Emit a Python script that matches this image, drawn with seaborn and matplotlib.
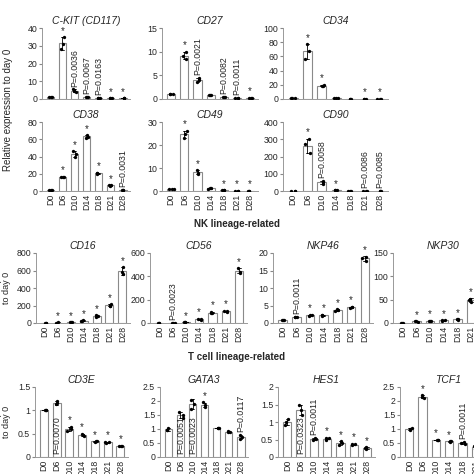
import numpy as np
import pandas as pd
import matplotlib
matplotlib.use('Agg')
import matplotlib.pyplot as plt
import seaborn as sns

sns.set_style('white')
plt.rcParams['font.family'] = ['Liberation Sans', 'DejaVu Sans']

DAYS = ['D0', 'D6', 'D10', 'D14', 'D18', 'D21', 'D28']

# --- replicate values per day (3 each) ---
CKIT = [[1, 1, 1], [28, 31, 35], [4, 4.5, 5.5], [1, 1, 1], [0.5, 0.6, 0.5], [0.3, 0.3, 0.3], [0.3, 0.3, 0.3]]
CD27 = [[1, 1, 1.1], [8.5, 9, 10], [3.5, 4, 4.5], [0.8, 0.9, 0.8], [0.5, 0.5, 0.5], [0.3, 0.3, 0.3], [0.3, 0.3, 0.3]]
CD34 = [[1, 1, 1], [57, 67, 77], [18, 19, 20], [1, 1, 1], [0.5, 0.5, 0.5], [0.3, 0.3, 0.3], [0.3, 0.3, 0.3]]
CD38 = [[1, 1, 1], [16, 16, 16.5], [40, 43, 46], [62, 63, 65], [20, 20.5, 21], [6, 6.5, 7], [1, 1, 1]]
CD49 = [[1, 1, 1], [23, 25, 26], [7.5, 8, 9], [1, 1.2, 1.3], [0.3, 0.3, 0.3], [0.2, 0.2, 0.2], [0.2, 0.2, 0.2]]
CD90 = [[1, 1, 1], [220, 270, 300], [40, 50, 60], [5, 6, 5], [1, 1, 1], [0.5, 0.5, 0.5], [0.5, 0.5, 0.5]]
CD16 = [[1, 1, 1], [5, 6, 5], [8, 7, 8], [25, 30, 28], [70, 80, 90], [190, 200, 215], [560, 580, 640]]
CD56 = [[1, 1, 1], [3, 3, 3], [5, 5, 6], [30, 35, 32], [85, 90, 95], [95, 100, 105], [430, 440, 470]]
NKP46 = [[1, 1, 1], [1.7, 1.8, 1.8], [2, 2.2, 2.3], [2.1, 2.3, 2.4], [3.5, 3.7, 3.9], [4.4, 4.5, 4.6], [17.8, 18.5, 19]]
NKP30 = [[1, 1, 1], [3, 4, 4], [4, 5, 5], [5, 6, 6], [7, 8, 8], [45, 50, 52], [60, 65, 70]]
CD3E = [[1, 1, 1], [1.13, 1.15, 1.2], [0.55, 0.6, 0.65], [0.45, 0.47, 0.5], [0.33, 0.34, 0.34], [0.3, 0.32, 0.33], [0.23, 0.24, 0.24]]
GATA3 = [[0.95, 0.98, 1.05], [1.4, 1.5, 1.6], [1.7, 1.9, 2.05], [1.8, 1.85, 1.95], [1.02, 1.03, 1.03], [0.88, 0.9, 0.93], [0.65, 0.7, 0.78]]
HES1 = [[0.92, 1, 1.1], [1.2, 1.35, 1.48], [0.48, 0.52, 0.55], [0.5, 0.53, 0.54], [0.35, 0.4, 0.45], [0.33, 0.36, 0.38], [0.22, 0.25, 0.28]]
TCF1 = [[0.95, 1, 1.02], [2.1, 2.15, 2.2], [0.62, 0.62, 0.62], [0.55, 0.56, 0.57], [0.45, 0.5, 0.55], [0.28, 0.35, 0.4], [0.3, 0.32, 0.35]]

# annotations per day ('' = none)
A_CKIT = ['', '*', 'P=0.0036', 'P=0.0067', 'P=0.0163', '*', '*']
A_CD27 = ['', '*', 'P=0.0021', '', 'P=0.0082', 'P=0.0011', '*']
A_CD34 = ['', '*', '*', '', '', '*', '*']
A_CD38 = ['', '*', '*', '*', '*', '*', 'P=0.0031']
A_CD49 = ['', '*', '*', '', '*', '*', '*']
A_CD90 = ['', '*', 'P=0.0058', '*', '', 'P=0.0086', 'P=0.0085']
A_CD16 = ['', '*', '*', '*', '*', '*', '*']
A_CD56 = ['', 'P=0.0023', '*', '*', '*', '*', '*']
A_NKP46 = ['', 'P=0.0011', '*', '*', '*', '*', '*']
A_NKP30 = ['', '*', '*', '*', '*', '*', '*']
A_CD3E = ['', 'P=0.0070', '*', '*', '*', '*', '*']
A_GATA3 = ['', 'P=0.0051', 'P=0.0023', '*', '', '', 'P=0.0117']
A_HES1 = ['', 'P=0.0323', 'P=0.0011', '*', '*', '*', '*']
A_TCF1 = ['', '*', '*', '*', 'P=0.0011', '*', '*']

W, H = 474, 474


def px(x0, y0, x1, y1):
    return [x0 / W, 1 - y1 / H, (x1 - x0) / W, (y1 - y0) / H]


def panel(fig, rect, name, vals, ann, ymax, step, xlabels=True):
    ax = fig.add_axes(rect)
    df = pd.DataFrame([(d, v) for d, vs in zip(DAYS, vals) for v in vs], columns=['day', 'val'])
    sns.barplot(data=df, x='day', y='val', order=DAYS, errorbar='sd', color='white',
                edgecolor='#8a8a8a', linewidth=0.8, width=0.62, capsize=0.25,
                err_kws={'color': 'black', 'linewidth': 0.6}, ax=ax)
    sns.stripplot(data=df, x='day', y='val', order=DAYS, color='black', size=2.4,
                  jitter=0.18, ax=ax)
    for i, (vs, a) in enumerate(zip(vals, ann)):
        top = np.mean(vs) + np.std(vs, ddof=1)
        if a == '*':
            ax.text(i, top + ymax * 0.02, '*', ha='center', va='bottom', fontsize=7)
        elif a:
            y = top + ymax * 0.04
            if y + ymax * 0.45 > ymax:
                y = ymax * 0.05
            ax.text(i, y, a, rotation=90, ha='center', va='bottom', fontsize=6.3, color='#222')
    ax.set_ylim(0, ymax)
    ticks = np.arange(0, ymax + step / 2, step)
    ax.set_yticks(ticks)
    ax.set_yticklabels([f'{t:g}' for t in ticks])
    ax.set_xlim(-0.7, 6.6)
    ax.set_xlabel('')
    ax.set_ylabel('')
    ax.set_title(name, fontsize=7.5, style='italic', pad=3)
    ax.tick_params(axis='x', labelsize=6.3, rotation=90, length=0, pad=2)
    if not xlabels:
        ax.set_xticklabels([])
    ax.tick_params(axis='y', labelsize=6.3, length=2, pad=1.5, left=True, color='#888')
    for s in ['top', 'right']:
        ax.spines[s].set_visible(False)
    for s in ['left', 'bottom']:
        ax.spines[s].set_color('#999')
        ax.spines[s].set_linewidth(0.7)
    return ax


fig = plt.figure(figsize=(W / 100, H / 100), dpi=100)

panel(fig, px(42, 28, 130, 99), 'C-KIT (CD117)', CKIT, A_CKIT, 40, 10, False)
panel(fig, px(162, 28, 258, 99), 'CD27', CD27, A_CD27, 15, 5, False)
panel(fig, px(283, 28, 388, 99), 'CD34', CD34, A_CD34, 100, 20, False)
panel(fig, px(42, 122, 130, 191), 'CD38', CD38, A_CD38, 80, 20)
panel(fig, px(162, 122, 258, 191), 'CD49', CD49, A_CD49, 30, 10)
panel(fig, px(283, 122, 388, 191), 'CD90', CD90, A_CD90, 400, 100)

panel(fig, px(36, 253, 130, 323), 'CD16', CD16, A_CD16, 800, 200)
panel(fig, px(150, 253, 247, 323), 'CD56', CD56, A_CD56, 600, 200)
panel(fig, px(273, 253, 373, 323), 'NKP46', NKP46, A_NKP46, 20, 5)
panel(fig, px(393, 253, 493, 323), 'NKP30', NKP30, A_NKP30, 150, 50)

panel(fig, px(35, 387, 128, 457), 'CD3E', CD3E, A_CD3E, 1.5, 0.5)
panel(fig, px(160, 387, 248, 457), 'GATA3', GATA3, A_GATA3, 2.5, 0.5)
panel(fig, px(278, 387, 375, 457), 'HES1', HES1, A_HES1, 2, 0.5)
panel(fig, px(400, 387, 497, 457), 'TCF1', TCF1, A_TCF1, 2.5, 0.5)

fig.text(8 / W, 1 - 110 / H, 'Relative expression to day 0', rotation=90, ha='center', va='center', fontsize=7)
fig.text(2 / W, 1 - 288 / H, 'Relative expression\nto day 0', rotation=90, ha='center', va='center',
         fontsize=6.5, linespacing=1.0)
fig.text(2 / W, 1 - 422 / H, 'Relative expression\nto day 0', rotation=90, ha='center', va='center',
         fontsize=6.5, linespacing=1.0)
fig.text(237 / W, 1 - 224 / H, 'NK lineage-related', ha='center', va='center', fontsize=7, weight='bold')
fig.text(237 / W, 1 - 357 / H, 'T cell lineage-related', ha='center', va='center', fontsize=7, weight='bold')

fig.savefig('out.png', dpi=100)
